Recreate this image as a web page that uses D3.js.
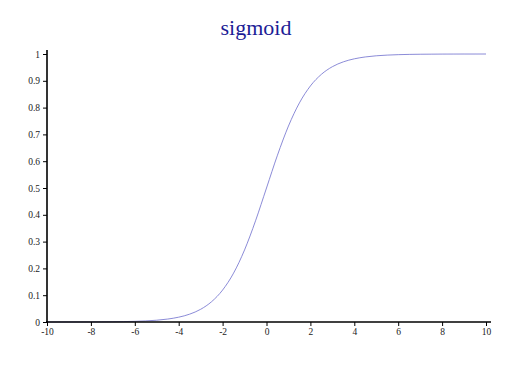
<!DOCTYPE html>
<html><head><meta charset="utf-8">
<script src="https://cdn.jsdelivr.net/npm/d3@7"></script>
<style>body{margin:0;background:#fff}svg{display:block}</style>
</head><body>
<svg id="c" width="512" height="384"></svg>
<script>
const title = "sigmoid";
const xValues = [-10,-9.5,-9,-8.5,-8,-7.5,-7,-6.5,-6,-5.5,-5,-4.5,-4,-3.5,-3,-2.5,-2,-1.5,-1,-0.5,0,0.5,1,1.5,2,2.5,3,3.5,4,4.5,5,5.5,6,6.5,7,7.5,8,8.5,9,9.5,10];
const yValues = [0.0000454,0.0000749,0.000123,0.000203,0.000335,0.000553,0.000911,0.0015,0.00247,0.00407,0.00669,0.011,0.018,0.0293,0.0474,0.0759,0.1192,0.1824,0.2689,0.3775,0.5,0.6225,0.7311,0.8176,0.8808,0.9241,0.9526,0.9707,0.982,0.989,0.9933,0.9959,0.9975,0.9985,0.9991,0.9994,0.9997,0.9998,0.9999,0.9999,1.0];
const xTicks = [-10,-8,-6,-4,-2,0,2,4,6,8,10];
const yTicks = [0,0.1,0.2,0.3,0.4,0.5,0.6,0.7,0.8,0.9,1];

const svg = d3.select("#c");
const x = d3.scaleLinear().domain([-10,10]).range([47,486]);
const y = d3.scaleLinear().domain([0,1]).range([322,54]);
const font = "Liberation Serif, Times New Roman, serif";

svg.append("text").attr("x",256).attr("y",35).attr("text-anchor","middle")
  .attr("font-family",font).attr("font-size",22)
  .attr("fill","#1c1c96").text(title);

const line = d3.line().x((d,i)=>x(xValues[i])).y(d=>y(d)).curve(d3.curveMonotoneX);
svg.append("path").datum(yValues).attr("d",line).attr("fill","none")
  .attr("stroke","#7676d0").attr("stroke-width",0.85);

const xAxis = svg.append("g").attr("transform","translate(0,322)")
  .call(d3.axisBottom(x).tickValues(xTicks).tickSize(4).tickSizeOuter(0).tickFormat(d=>String(d)));
xAxis.attr("font-family",font);
xAxis.select(".domain").remove();
xAxis.append("line").attr("x1",46).attr("x2",491).attr("stroke","#000").attr("stroke-width",1.6);
xAxis.selectAll("text").attr("font-family",font).attr("font-size",9.5).attr("fill","#222").attr("dy","0.9em").attr("y",4);

const yAxis = svg.append("g").attr("transform","translate(47,0)")
  .call(d3.axisLeft(y).tickValues(yTicks).tickSize(4).tickSizeOuter(0).tickFormat(d=>String(+d.toFixed(1))));
yAxis.attr("font-family",font);
yAxis.select(".domain").remove();
yAxis.append("line").attr("y1",50).attr("y2",323).attr("stroke","#000").attr("stroke-width",1.6);
yAxis.selectAll("text").attr("font-family",font).attr("font-size",9.5).attr("fill","#222").attr("x",-7);
</script>
</body></html>
